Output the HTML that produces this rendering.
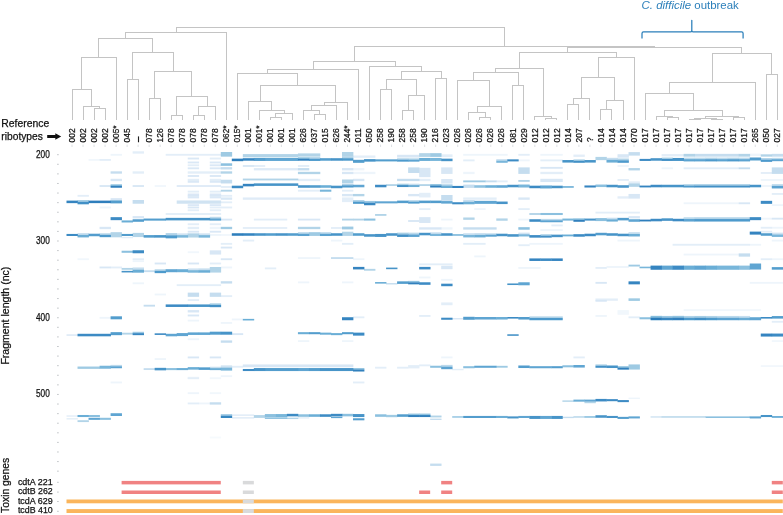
<!DOCTYPE html>
<html><head><meta charset="utf-8"><title>Ribotype heatmap</title>
<style>html,body{margin:0;padding:0;background:#fff}body{width:783px;height:515px;overflow:hidden;font-family:"Liberation Sans",Arial,sans-serif}svg{display:block}</style>
</head><body>
<svg width="783" height="515" viewBox="0 0 783 515" font-family="'Liberation Sans', Arial, sans-serif">
<filter id="bl" x="-2%" y="-2%" width="104%" height="104%"><feGaussianBlur stdDeviation="0.35 0.45"/></filter>
<g id="heat" filter="url(#bl)">
<rect x="209.76" y="436.54" width="11.37" height="1.86" fill="#f6fafd"/>
<rect x="88.54" y="158.99" width="11.37" height="1.86" fill="#f1f7fc"/>
<rect x="154.66" y="185.09" width="11.37" height="1.86" fill="#f1f7fc"/>
<rect x="220.78" y="234.04" width="11.37" height="1.86" fill="#f1f7fc"/>
<rect x="187.72" y="251.29" width="11.37" height="1.86" fill="#f1f7fc"/>
<rect x="77.52" y="258.29" width="11.37" height="1.86" fill="#f1f7fc"/>
<rect x="683.62" y="309.18" width="77.49" height="1.86" fill="#f1f7fc"/>
<rect x="617.5" y="310.12" width="11.37" height="4.66" fill="#f1f7fc"/>
<rect x="771.78" y="340.19" width="11.37" height="1.86" fill="#f1f7fc"/>
<rect x="209.76" y="377.33" width="11.37" height="1.86" fill="#f1f7fc"/>
<rect x="209.76" y="392.25" width="11.37" height="1.86" fill="#f1f7fc"/>
<rect x="518.32" y="159.45" width="11.37" height="1.86" fill="#eef5fb"/>
<rect x="749.74" y="153.62" width="11.37" height="2.33" fill="#eef5fb"/>
<rect x="110.58" y="153.86" width="11.37" height="1.86" fill="#eef5fb"/>
<rect x="463.22" y="153.86" width="44.43" height="1.86" fill="#eef5fb"/>
<rect x="540.36" y="153.86" width="22.39" height="1.86" fill="#eef5fb"/>
<rect x="617.5" y="165.05" width="11.37" height="1.86" fill="#eef5fb"/>
<rect x="353.02" y="168.08" width="11.37" height="2.33" fill="#eef5fb"/>
<rect x="353.02" y="171.81" width="22.39" height="2.33" fill="#eef5fb"/>
<rect x="463.22" y="171.81" width="11.37" height="2.33" fill="#eef5fb"/>
<rect x="661.58" y="167.38" width="11.37" height="1.86" fill="#eef5fb"/>
<rect x="760.76" y="179.03" width="22.39" height="1.86" fill="#eef5fb"/>
<rect x="760.76" y="185.09" width="11.37" height="1.86" fill="#eef5fb"/>
<rect x="683.62" y="202.34" width="55.45" height="1.86" fill="#eef5fb"/>
<rect x="771.78" y="204.21" width="11.37" height="1.86" fill="#eef5fb"/>
<rect x="99.56" y="206.54" width="11.37" height="1.86" fill="#eef5fb"/>
<rect x="474.24" y="208.17" width="11.37" height="1.86" fill="#eef5fb"/>
<rect x="441.18" y="218.66" width="11.37" height="1.86" fill="#eef5fb"/>
<rect x="518.32" y="218.66" width="11.37" height="1.86" fill="#eef5fb"/>
<rect x="760.76" y="217.73" width="11.37" height="1.86" fill="#eef5fb"/>
<rect x="209.76" y="226.82" width="11.37" height="2.33" fill="#eef5fb"/>
<rect x="441.18" y="227.28" width="11.37" height="2.33" fill="#eef5fb"/>
<rect x="540.36" y="229.15" width="22.39" height="1.86" fill="#eef5fb"/>
<rect x="771.78" y="226.82" width="11.37" height="1.86" fill="#eef5fb"/>
<rect x="209.76" y="234.04" width="11.37" height="1.86" fill="#eef5fb"/>
<rect x="330.98" y="239.64" width="11.37" height="1.86" fill="#eef5fb"/>
<rect x="617.5" y="239.64" width="22.39" height="1.86" fill="#eef5fb"/>
<rect x="771.78" y="239.64" width="11.37" height="1.86" fill="#eef5fb"/>
<rect x="529.34" y="242.9" width="33.41" height="1.86" fill="#eef5fb"/>
<rect x="749.74" y="243.83" width="11.37" height="1.86" fill="#eef5fb"/>
<rect x="683.62" y="253.62" width="55.45" height="1.86" fill="#eef5fb"/>
<rect x="297.92" y="257.12" width="22.39" height="1.86" fill="#eef5fb"/>
<rect x="353.02" y="258.29" width="11.37" height="1.86" fill="#eef5fb"/>
<rect x="771.78" y="258.29" width="11.37" height="1.86" fill="#eef5fb"/>
<rect x="474.24" y="255.49" width="11.37" height="1.86" fill="#eef5fb"/>
<rect x="132.62" y="260.23" width="11.37" height="1.86" fill="#eef5fb"/>
<rect x="220.78" y="266.53" width="11.37" height="1.86" fill="#eef5fb"/>
<rect x="518.32" y="266.99" width="22.39" height="1.86" fill="#eef5fb"/>
<rect x="606.48" y="266.06" width="22.39" height="1.86" fill="#eef5fb"/>
<rect x="419.14" y="276.55" width="11.37" height="1.86" fill="#eef5fb"/>
<rect x="441.18" y="278.88" width="11.37" height="1.86" fill="#eef5fb"/>
<rect x="132.62" y="282.38" width="11.37" height="1.86" fill="#eef5fb"/>
<rect x="297.92" y="281.45" width="11.37" height="1.86" fill="#eef5fb"/>
<rect x="342" y="281.45" width="11.37" height="1.86" fill="#eef5fb"/>
<rect x="749.74" y="281.91" width="33.41" height="1.86" fill="#eef5fb"/>
<rect x="154.66" y="293.57" width="11.37" height="1.86" fill="#eef5fb"/>
<rect x="187.72" y="319.67" width="11.37" height="1.86" fill="#eef5fb"/>
<rect x="595.46" y="315.01" width="11.37" height="1.86" fill="#eef5fb"/>
<rect x="99.56" y="316.88" width="11.37" height="1.86" fill="#eef5fb"/>
<rect x="220.78" y="322" width="11.37" height="1.86" fill="#eef5fb"/>
<rect x="231.8" y="318.51" width="11.37" height="1.86" fill="#eef5fb"/>
<rect x="187.72" y="338.32" width="11.37" height="1.86" fill="#eef5fb"/>
<rect x="297.92" y="340.19" width="11.37" height="1.86" fill="#eef5fb"/>
<rect x="342" y="340.19" width="11.37" height="1.86" fill="#eef5fb"/>
<rect x="441.18" y="356.5" width="11.37" height="1.86" fill="#eef5fb"/>
<rect x="154.66" y="358.14" width="11.37" height="1.86" fill="#eef5fb"/>
<rect x="760.76" y="365.36" width="22.39" height="1.4" fill="#eef5fb"/>
<rect x="187.72" y="376.78" width="11.37" height="1.86" fill="#eef5fb"/>
<rect x="220.78" y="375.23" width="11.37" height="1.86" fill="#eef5fb"/>
<rect x="110.58" y="381.53" width="11.37" height="1.86" fill="#eef5fb"/>
<rect x="187.72" y="392.25" width="11.37" height="1.86" fill="#eef5fb"/>
<rect x="198.74" y="402.51" width="11.37" height="1.86" fill="#eef5fb"/>
<rect x="628.52" y="397.61" width="11.37" height="1.4" fill="#eef5fb"/>
<rect x="353.02" y="155.49" width="22.39" height="2.33" fill="#e3eef8"/>
<rect x="441.18" y="154.32" width="11.37" height="2.8" fill="#e3eef8"/>
<rect x="463.22" y="159.45" width="11.37" height="1.86" fill="#e3eef8"/>
<rect x="540.36" y="159.45" width="22.39" height="1.86" fill="#e3eef8"/>
<rect x="573.42" y="154.56" width="11.37" height="2.33" fill="#e3eef8"/>
<rect x="661.58" y="154.09" width="22.39" height="2.33" fill="#e3eef8"/>
<rect x="165.68" y="153.86" width="55.45" height="1.86" fill="#e3eef8"/>
<rect x="518.32" y="153.86" width="11.37" height="1.86" fill="#e3eef8"/>
<rect x="132.62" y="151.29" width="11.37" height="2.33" fill="#e3eef8"/>
<rect x="99.56" y="158.99" width="11.37" height="1.86" fill="#e3eef8"/>
<rect x="253.84" y="165.05" width="11.37" height="1.86" fill="#e3eef8"/>
<rect x="297.92" y="165.05" width="11.37" height="1.86" fill="#e3eef8"/>
<rect x="132.62" y="171.34" width="11.37" height="2.33" fill="#e3eef8"/>
<rect x="187.72" y="171.34" width="33.41" height="2.33" fill="#e3eef8"/>
<rect x="540.36" y="171.81" width="22.39" height="2.33" fill="#e3eef8"/>
<rect x="683.62" y="167.38" width="55.45" height="1.86" fill="#e3eef8"/>
<rect x="760.76" y="172.04" width="11.37" height="1.86" fill="#e3eef8"/>
<rect x="187.72" y="178.8" width="11.37" height="2.33" fill="#e3eef8"/>
<rect x="209.76" y="178.8" width="11.37" height="2.33" fill="#e3eef8"/>
<rect x="297.92" y="178.8" width="22.39" height="2.33" fill="#e3eef8"/>
<rect x="419.14" y="178.8" width="11.37" height="2.33" fill="#e3eef8"/>
<rect x="496.28" y="180.43" width="11.37" height="1.86" fill="#e3eef8"/>
<rect x="617.5" y="179.03" width="11.37" height="1.86" fill="#e3eef8"/>
<rect x="628.52" y="181.36" width="11.37" height="1.86" fill="#e3eef8"/>
<rect x="220.78" y="186.03" width="11.37" height="1.86" fill="#e3eef8"/>
<rect x="297.92" y="189.76" width="22.39" height="1.86" fill="#e3eef8"/>
<rect x="342" y="189.76" width="11.37" height="1.86" fill="#e3eef8"/>
<rect x="77.52" y="194.88" width="11.37" height="1.86" fill="#e3eef8"/>
<rect x="220.78" y="194.88" width="11.37" height="1.86" fill="#e3eef8"/>
<rect x="463.22" y="197.45" width="33.41" height="2.33" fill="#e3eef8"/>
<rect x="342" y="197.45" width="11.37" height="4.66" fill="#e3eef8"/>
<rect x="419.14" y="192.79" width="11.37" height="4.66" fill="#e3eef8"/>
<rect x="617.5" y="196.28" width="11.37" height="2.33" fill="#e3eef8"/>
<rect x="771.78" y="193.02" width="11.37" height="1.86" fill="#e3eef8"/>
<rect x="220.78" y="201.41" width="11.37" height="1.86" fill="#e3eef8"/>
<rect x="209.76" y="206.54" width="11.37" height="1.86" fill="#e3eef8"/>
<rect x="220.78" y="206.54" width="11.37" height="1.86" fill="#e3eef8"/>
<rect x="419.14" y="208.17" width="11.37" height="1.86" fill="#e3eef8"/>
<rect x="518.32" y="208.17" width="11.37" height="1.86" fill="#e3eef8"/>
<rect x="165.68" y="213.07" width="55.45" height="1.86" fill="#e3eef8"/>
<rect x="595.46" y="211.67" width="44.43" height="1.86" fill="#e3eef8"/>
<rect x="253.84" y="218.66" width="33.41" height="1.86" fill="#e3eef8"/>
<rect x="551.38" y="224.49" width="11.37" height="1.86" fill="#e3eef8"/>
<rect x="187.72" y="226.82" width="11.37" height="2.33" fill="#e3eef8"/>
<rect x="242.82" y="227.05" width="44.43" height="1.86" fill="#e3eef8"/>
<rect x="330.98" y="227.05" width="11.37" height="1.86" fill="#e3eef8"/>
<rect x="760.76" y="226.82" width="11.37" height="1.86" fill="#e3eef8"/>
<rect x="121.6" y="236.84" width="11.37" height="1.4" fill="#e3eef8"/>
<rect x="760.76" y="230.78" width="11.37" height="1.86" fill="#e3eef8"/>
<rect x="242.82" y="239.64" width="11.37" height="1.86" fill="#e3eef8"/>
<rect x="342" y="242.9" width="11.37" height="1.86" fill="#e3eef8"/>
<rect x="463.22" y="242.9" width="22.39" height="1.86" fill="#e3eef8"/>
<rect x="220.78" y="242.9" width="11.37" height="1.86" fill="#e3eef8"/>
<rect x="518.32" y="244.3" width="11.37" height="1.86" fill="#e3eef8"/>
<rect x="672.6" y="243.83" width="77.49" height="1.86" fill="#e3eef8"/>
<rect x="132.62" y="258.29" width="11.37" height="1.86" fill="#e3eef8"/>
<rect x="760.76" y="258.29" width="11.37" height="1.86" fill="#e3eef8"/>
<rect x="419.14" y="263.41" width="33.41" height="1.86" fill="#e3eef8"/>
<rect x="209.76" y="157.59" width="11.37" height="1.86" fill="#e3eef8"/>
<rect x="187.72" y="164.35" width="11.37" height="1.86" fill="#e3eef8"/>
<rect x="187.72" y="190.69" width="11.37" height="1.86" fill="#e3eef8"/>
<rect x="209.76" y="190.69" width="11.37" height="1.86" fill="#e3eef8"/>
<rect x="187.72" y="209.34" width="11.37" height="1.86" fill="#e3eef8"/>
<rect x="209.76" y="209.34" width="11.37" height="1.86" fill="#e3eef8"/>
<rect x="187.72" y="223.32" width="11.37" height="1.86" fill="#e3eef8"/>
<rect x="209.76" y="223.32" width="11.37" height="1.86" fill="#e3eef8"/>
<rect x="209.76" y="262.56" width="11.37" height="1.86" fill="#e3eef8"/>
<rect x="110.58" y="266.53" width="11.37" height="1.86" fill="#e3eef8"/>
<rect x="264.86" y="267.46" width="11.37" height="1.86" fill="#e3eef8"/>
<rect x="595.46" y="266.99" width="11.37" height="1.86" fill="#e3eef8"/>
<rect x="176.7" y="284.24" width="44.43" height="1.86" fill="#e3eef8"/>
<rect x="220.78" y="295.2" width="11.37" height="1.86" fill="#e3eef8"/>
<rect x="187.72" y="299.16" width="11.37" height="1.86" fill="#e3eef8"/>
<rect x="595.46" y="298.46" width="22.39" height="2.33" fill="#e3eef8"/>
<rect x="441.18" y="302.42" width="11.37" height="2.8" fill="#e3eef8"/>
<rect x="419.14" y="315.01" width="11.37" height="1.86" fill="#e3eef8"/>
<rect x="353.02" y="316.41" width="11.37" height="1.86" fill="#e3eef8"/>
<rect x="628.52" y="316.41" width="11.37" height="1.86" fill="#e3eef8"/>
<rect x="771.78" y="320.84" width="11.37" height="1.86" fill="#e3eef8"/>
<rect x="573.42" y="356.5" width="11.37" height="1.86" fill="#e3eef8"/>
<rect x="231.8" y="365.83" width="11.37" height="1.86" fill="#e3eef8"/>
<rect x="375.06" y="366.76" width="11.37" height="1.86" fill="#e3eef8"/>
<rect x="397.1" y="366.76" width="11.37" height="1.86" fill="#e3eef8"/>
<rect x="408.12" y="365.13" width="11.37" height="3.26" fill="#e3eef8"/>
<rect x="419.14" y="364.43" width="11.37" height="1.86" fill="#e3eef8"/>
<rect x="452.2" y="368.86" width="11.37" height="1.4" fill="#e3eef8"/>
<rect x="187.72" y="377.33" width="11.37" height="1.86" fill="#e3eef8"/>
<rect x="353.02" y="381.53" width="11.37" height="1.86" fill="#e3eef8"/>
<rect x="187.72" y="402.51" width="11.37" height="1.86" fill="#e3eef8"/>
<rect x="66.5" y="415.33" width="11.37" height="1.4" fill="#e3eef8"/>
<rect x="66.5" y="418.12" width="11.37" height="1.4" fill="#e3eef8"/>
<rect x="297.92" y="417.19" width="11.37" height="1.4" fill="#e3eef8"/>
<rect x="253.84" y="168.08" width="44.43" height="2.33" fill="#dfebf7"/>
<rect x="176.7" y="185.09" width="44.43" height="1.86" fill="#dfebf7"/>
<rect x="242.82" y="197.45" width="88.51" height="2.33" fill="#dfebf7"/>
<rect x="187.72" y="157.59" width="11.37" height="1.86" fill="#dae8f6"/>
<rect x="187.72" y="161.55" width="11.37" height="1.86" fill="#dae8f6"/>
<rect x="209.76" y="161.55" width="11.37" height="1.86" fill="#dae8f6"/>
<rect x="209.76" y="164.35" width="11.37" height="1.86" fill="#dae8f6"/>
<rect x="187.72" y="167.38" width="11.37" height="1.86" fill="#dae8f6"/>
<rect x="209.76" y="167.38" width="11.37" height="1.86" fill="#dae8f6"/>
<rect x="187.72" y="175.07" width="11.37" height="1.86" fill="#dae8f6"/>
<rect x="209.76" y="175.07" width="11.37" height="1.86" fill="#dae8f6"/>
<rect x="187.72" y="180.9" width="11.37" height="1.86" fill="#dae8f6"/>
<rect x="209.76" y="180.9" width="11.37" height="1.86" fill="#dae8f6"/>
<rect x="187.72" y="193.48" width="11.37" height="1.86" fill="#dae8f6"/>
<rect x="209.76" y="193.48" width="11.37" height="1.86" fill="#dae8f6"/>
<rect x="187.72" y="196.52" width="11.37" height="1.86" fill="#dae8f6"/>
<rect x="209.76" y="196.52" width="11.37" height="1.86" fill="#dae8f6"/>
<rect x="187.72" y="204.21" width="11.37" height="1.86" fill="#dae8f6"/>
<rect x="209.76" y="204.21" width="11.37" height="1.86" fill="#dae8f6"/>
<rect x="187.72" y="230.78" width="11.37" height="1.86" fill="#dae8f6"/>
<rect x="209.76" y="230.78" width="11.37" height="1.86" fill="#dae8f6"/>
<rect x="397.1" y="154.79" width="22.39" height="2.8" fill="#d8e7f5"/>
<rect x="617.5" y="154.21" width="11.37" height="3.5" fill="#d8e7f5"/>
<rect x="242.82" y="165.05" width="11.37" height="1.86" fill="#d8e7f5"/>
<rect x="342" y="168.08" width="11.37" height="2.33" fill="#d8e7f5"/>
<rect x="342" y="171.81" width="11.37" height="2.33" fill="#d8e7f5"/>
<rect x="419.14" y="167.84" width="11.37" height="9.32" fill="#d8e7f5"/>
<rect x="441.18" y="167.38" width="11.37" height="6.53" fill="#d8e7f5"/>
<rect x="540.36" y="166.91" width="22.39" height="1.86" fill="#d8e7f5"/>
<rect x="110.58" y="178.8" width="11.37" height="2.33" fill="#d8e7f5"/>
<rect x="353.02" y="178.8" width="11.37" height="2.33" fill="#d8e7f5"/>
<rect x="441.18" y="179.03" width="11.37" height="4.2" fill="#d8e7f5"/>
<rect x="540.36" y="178.8" width="22.39" height="3.26" fill="#d8e7f5"/>
<rect x="99.56" y="185.09" width="11.37" height="1.86" fill="#d8e7f5"/>
<rect x="132.62" y="185.09" width="11.37" height="1.86" fill="#d8e7f5"/>
<rect x="187.72" y="194.88" width="11.37" height="1.86" fill="#d8e7f5"/>
<rect x="209.76" y="194.88" width="11.37" height="1.86" fill="#d8e7f5"/>
<rect x="342" y="193.95" width="11.37" height="2.33" fill="#d8e7f5"/>
<rect x="408.12" y="193.95" width="11.37" height="2.33" fill="#d8e7f5"/>
<rect x="518.32" y="197.45" width="11.37" height="2.33" fill="#d8e7f5"/>
<rect x="220.78" y="197.45" width="11.37" height="2.33" fill="#d8e7f5"/>
<rect x="628.52" y="193.95" width="11.37" height="4.66" fill="#d8e7f5"/>
<rect x="110.58" y="198.15" width="11.37" height="1.86" fill="#d8e7f5"/>
<rect x="738.72" y="202.34" width="11.37" height="1.86" fill="#d8e7f5"/>
<rect x="187.72" y="206.54" width="11.37" height="1.86" fill="#d8e7f5"/>
<rect x="132.62" y="216.1" width="11.37" height="2.33" fill="#d8e7f5"/>
<rect x="220.78" y="218.66" width="11.37" height="1.86" fill="#d8e7f5"/>
<rect x="297.92" y="218.66" width="22.39" height="1.86" fill="#d8e7f5"/>
<rect x="408.12" y="220.06" width="11.37" height="1.86" fill="#d8e7f5"/>
<rect x="419.14" y="217.14" width="11.37" height="5.83" fill="#d8e7f5"/>
<rect x="628.52" y="216.1" width="11.37" height="2.33" fill="#d8e7f5"/>
<rect x="771.78" y="217.73" width="11.37" height="1.86" fill="#d8e7f5"/>
<rect x="99.56" y="226.82" width="11.37" height="2.33" fill="#d8e7f5"/>
<rect x="419.14" y="227.28" width="22.39" height="2.33" fill="#d8e7f5"/>
<rect x="220.78" y="246.63" width="11.37" height="1.86" fill="#d8e7f5"/>
<rect x="209.76" y="250.36" width="11.37" height="4.2" fill="#d8e7f5"/>
<rect x="220.78" y="258.29" width="11.37" height="1.86" fill="#d8e7f5"/>
<rect x="154.66" y="262.56" width="11.37" height="1.86" fill="#d8e7f5"/>
<rect x="187.72" y="262.56" width="11.37" height="1.86" fill="#d8e7f5"/>
<rect x="99.56" y="266.53" width="11.37" height="1.86" fill="#d8e7f5"/>
<rect x="441.18" y="265.71" width="11.37" height="3.5" fill="#d8e7f5"/>
<rect x="595.46" y="281.91" width="11.37" height="1.86" fill="#d8e7f5"/>
<rect x="595.46" y="299.86" width="11.37" height="1.86" fill="#d8e7f5"/>
<rect x="187.72" y="310.12" width="11.37" height="2.33" fill="#d8e7f5"/>
<rect x="187.72" y="314.55" width="11.37" height="1.86" fill="#d8e7f5"/>
<rect x="452.2" y="318.04" width="11.37" height="1.4" fill="#d8e7f5"/>
<rect x="66.5" y="334.36" width="11.37" height="1.4" fill="#d8e7f5"/>
<rect x="231.8" y="333.19" width="11.37" height="1.86" fill="#d8e7f5"/>
<rect x="187.72" y="356.5" width="11.37" height="1.86" fill="#d8e7f5"/>
<rect x="209.76" y="356.5" width="11.37" height="1.86" fill="#d8e7f5"/>
<rect x="242.82" y="364.43" width="110.55" height="2.8" fill="#d8e7f5"/>
<rect x="231.8" y="414.51" width="22.39" height="1.17" fill="#d8e7f5"/>
<rect x="231.8" y="417.31" width="22.39" height="1.17" fill="#d8e7f5"/>
<rect x="176.7" y="200.48" width="44.43" height="3.26" fill="#d0e3f2"/>
<rect x="496.28" y="158.99" width="11.37" height="1.73" fill="#d0e3f2"/>
<rect x="176.7" y="233.34" width="11.37" height="1.94" fill="#d0e3f2"/>
<rect x="198.74" y="233.34" width="11.37" height="1.94" fill="#d0e3f2"/>
<rect x="430.16" y="232.18" width="11.37" height="1.73" fill="#d0e3f2"/>
<rect x="463.22" y="233.11" width="11.37" height="1.94" fill="#d0e3f2"/>
<rect x="518.32" y="232.65" width="11.37" height="1.73" fill="#d0e3f2"/>
<rect x="771.78" y="232.65" width="11.37" height="1.94" fill="#d0e3f2"/>
<rect x="187.72" y="268.39" width="11.37" height="1.94" fill="#d0e3f2"/>
<rect x="220.78" y="365.36" width="11.37" height="2.36" fill="#d0e3f2"/>
<rect x="606.48" y="157.82" width="11.37" height="2.15" fill="#c6deef"/>
<rect x="408.12" y="183.69" width="11.37" height="1.52" fill="#c6deef"/>
<rect x="441.18" y="183.69" width="11.37" height="1.94" fill="#c6deef"/>
<rect x="463.22" y="200.01" width="11.37" height="1.94" fill="#c6deef"/>
<rect x="606.48" y="217.73" width="11.37" height="1.73" fill="#c6deef"/>
<rect x="77.52" y="233.11" width="11.37" height="1.94" fill="#c6deef"/>
<rect x="474.24" y="233.11" width="11.37" height="1.94" fill="#c6deef"/>
<rect x="628.52" y="232.18" width="11.37" height="1.94" fill="#c6deef"/>
<rect x="132.62" y="267.46" width="11.37" height="2.36" fill="#c6deef"/>
<rect x="198.74" y="268.39" width="11.37" height="1.94" fill="#c6deef"/>
<rect x="738.72" y="315.94" width="11.37" height="1.94" fill="#c6deef"/>
<rect x="209.76" y="366.76" width="11.37" height="1.52" fill="#c6deef"/>
<rect x="628.52" y="152.11" width="11.37" height="3.5" fill="#c5ddef"/>
<rect x="694.64" y="153.86" width="44.43" height="2.8" fill="#c5ddef"/>
<rect x="771.78" y="153.86" width="11.37" height="2.8" fill="#c5ddef"/>
<rect x="297.92" y="168.08" width="11.37" height="2.33" fill="#c5ddef"/>
<rect x="408.12" y="167.38" width="11.37" height="5.59" fill="#c5ddef"/>
<rect x="220.78" y="167.14" width="11.37" height="2.33" fill="#c5ddef"/>
<rect x="110.58" y="171.34" width="11.37" height="2.33" fill="#c5ddef"/>
<rect x="518.32" y="167.38" width="11.37" height="6.53" fill="#c5ddef"/>
<rect x="738.72" y="167.38" width="11.37" height="1.86" fill="#c5ddef"/>
<rect x="771.78" y="167.38" width="11.37" height="6.53" fill="#c5ddef"/>
<rect x="220.78" y="179.73" width="11.37" height="3.73" fill="#c5ddef"/>
<rect x="397.1" y="178.8" width="22.39" height="2.33" fill="#c5ddef"/>
<rect x="485.26" y="180.43" width="11.37" height="1.86" fill="#c5ddef"/>
<rect x="463.22" y="184.63" width="11.37" height="3.26" fill="#c5ddef"/>
<rect x="441.18" y="195" width="11.37" height="5.83" fill="#c5ddef"/>
<rect x="132.62" y="200.01" width="11.37" height="3.73" fill="#c5ddef"/>
<rect x="463.22" y="227.28" width="33.41" height="2.33" fill="#c5ddef"/>
<rect x="738.72" y="253.39" width="11.37" height="3.26" fill="#c5ddef"/>
<rect x="330.98" y="257.12" width="22.39" height="1.86" fill="#c5ddef"/>
<rect x="143.64" y="270.26" width="11.37" height="1.86" fill="#c5ddef"/>
<rect x="220.78" y="281.21" width="11.37" height="2.33" fill="#c5ddef"/>
<rect x="386.08" y="283.08" width="11.37" height="1.4" fill="#c5ddef"/>
<rect x="187.72" y="292.63" width="11.37" height="4.2" fill="#c5ddef"/>
<rect x="209.76" y="292.63" width="11.37" height="4.2" fill="#c5ddef"/>
<rect x="143.64" y="304.76" width="11.37" height="1.86" fill="#c5ddef"/>
<rect x="220.78" y="340.42" width="11.37" height="2.33" fill="#c5ddef"/>
<rect x="143.64" y="368.16" width="11.37" height="1.86" fill="#c5ddef"/>
<rect x="209.76" y="402.27" width="11.37" height="2.33" fill="#c5ddef"/>
<rect x="430.16" y="418.59" width="11.37" height="1.4" fill="#c5ddef"/>
<rect x="562.4" y="416.72" width="11.37" height="1.4" fill="#c5ddef"/>
<rect x="650.56" y="416.38" width="11.37" height="1.17" fill="#c5ddef"/>
<rect x="430.16" y="463.58" width="11.37" height="2.33" fill="#c5ddef"/>
<rect x="408.12" y="158.29" width="11.37" height="1.52" fill="#bbd9ec"/>
<rect x="683.62" y="157.59" width="11.37" height="1.73" fill="#bbd9ec"/>
<rect x="694.64" y="157.59" width="11.37" height="1.73" fill="#bbd9ec"/>
<rect x="716.68" y="157.59" width="11.37" height="1.73" fill="#bbd9ec"/>
<rect x="738.72" y="157.59" width="11.37" height="1.73" fill="#bbd9ec"/>
<rect x="771.78" y="157.82" width="11.37" height="1.52" fill="#bbd9ec"/>
<rect x="771.78" y="184.16" width="11.37" height="1.94" fill="#bbd9ec"/>
<rect x="209.76" y="216.79" width="11.37" height="1.73" fill="#bbd9ec"/>
<rect x="540.36" y="218.89" width="22.39" height="1.52" fill="#bbd9ec"/>
<rect x="683.62" y="217.26" width="11.37" height="1.94" fill="#bbd9ec"/>
<rect x="297.92" y="232.18" width="11.37" height="1.73" fill="#bbd9ec"/>
<rect x="319.96" y="232.18" width="11.37" height="1.73" fill="#bbd9ec"/>
<rect x="408.12" y="232.65" width="11.37" height="1.94" fill="#bbd9ec"/>
<rect x="485.26" y="233.34" width="11.37" height="1.52" fill="#bbd9ec"/>
<rect x="716.68" y="315.94" width="22.39" height="1.94" fill="#bbd9ec"/>
<rect x="110.58" y="364.9" width="11.37" height="1.52" fill="#bbd9ec"/>
<rect x="441.18" y="364.9" width="11.37" height="1.94" fill="#bbd9ec"/>
<rect x="242.82" y="154.09" width="55.45" height="3.26" fill="#b2d4e8"/>
<rect x="297.92" y="153.39" width="22.39" height="3.26" fill="#b2d4e8"/>
<rect x="342" y="151.99" width="11.37" height="4.66" fill="#b2d4e8"/>
<rect x="419.14" y="153.16" width="11.37" height="3.73" fill="#b2d4e8"/>
<rect x="595.46" y="156.89" width="11.37" height="3.26" fill="#b2d4e8"/>
<rect x="683.62" y="153.86" width="11.37" height="2.8" fill="#b2d4e8"/>
<rect x="738.72" y="153.86" width="11.37" height="2.8" fill="#b2d4e8"/>
<rect x="760.76" y="154.32" width="11.37" height="2.33" fill="#b2d4e8"/>
<rect x="628.52" y="168.08" width="11.37" height="2.33" fill="#b2d4e8"/>
<rect x="220.78" y="171.34" width="11.37" height="2.33" fill="#b2d4e8"/>
<rect x="297.92" y="171.81" width="22.39" height="2.33" fill="#b2d4e8"/>
<rect x="242.82" y="178.57" width="55.45" height="1.86" fill="#b2d4e8"/>
<rect x="342" y="179.5" width="11.37" height="3.73" fill="#b2d4e8"/>
<rect x="518.32" y="179.97" width="11.37" height="1.86" fill="#b2d4e8"/>
<rect x="386.08" y="184.16" width="11.37" height="1.86" fill="#b2d4e8"/>
<rect x="419.14" y="184.16" width="11.37" height="1.86" fill="#b2d4e8"/>
<rect x="628.52" y="183.34" width="11.37" height="3.5" fill="#b2d4e8"/>
<rect x="220.78" y="189.76" width="11.37" height="1.86" fill="#b2d4e8"/>
<rect x="353.02" y="193.95" width="11.37" height="2.33" fill="#b2d4e8"/>
<rect x="529.34" y="213.07" width="11.37" height="1.86" fill="#b2d4e8"/>
<rect x="375.06" y="214" width="11.37" height="1.86" fill="#b2d4e8"/>
<rect x="342" y="218.66" width="11.37" height="1.86" fill="#b2d4e8"/>
<rect x="353.02" y="218.66" width="11.37" height="1.86" fill="#b2d4e8"/>
<rect x="463.22" y="217.49" width="11.37" height="2.33" fill="#b2d4e8"/>
<rect x="496.28" y="218.43" width="11.37" height="2.33" fill="#b2d4e8"/>
<rect x="297.92" y="226.82" width="22.39" height="2.33" fill="#b2d4e8"/>
<rect x="110.58" y="232.18" width="11.37" height="5.13" fill="#b2d4e8"/>
<rect x="132.62" y="232.88" width="11.37" height="4.2" fill="#b2d4e8"/>
<rect x="187.72" y="233.34" width="11.37" height="4.2" fill="#b2d4e8"/>
<rect x="342" y="231.71" width="11.37" height="4.2" fill="#b2d4e8"/>
<rect x="121.6" y="267.93" width="11.37" height="1.86" fill="#b2d4e8"/>
<rect x="209.76" y="266.99" width="11.37" height="5.59" fill="#b2d4e8"/>
<rect x="364.04" y="268.86" width="11.37" height="1.86" fill="#b2d4e8"/>
<rect x="121.6" y="332.73" width="11.37" height="1.86" fill="#b2d4e8"/>
<rect x="562.4" y="400.41" width="11.37" height="1.4" fill="#b2d4e8"/>
<rect x="584.44" y="401.81" width="11.37" height="1.4" fill="#b2d4e8"/>
<rect x="77.52" y="420.22" width="11.37" height="1.86" fill="#b2d4e8"/>
<rect x="253.84" y="415.09" width="11.37" height="2.8" fill="#b2d4e8"/>
<rect x="286.9" y="417.66" width="11.37" height="1.4" fill="#b2d4e8"/>
<rect x="430.16" y="415.56" width="11.37" height="1.86" fill="#b2d4e8"/>
<rect x="573.42" y="416.26" width="11.37" height="1.4" fill="#b2d4e8"/>
<rect x="661.58" y="416.26" width="44.43" height="1.4" fill="#b2d4e8"/>
<rect x="308.94" y="157.12" width="11.37" height="1.73" fill="#b1d3e8"/>
<rect x="342" y="156.42" width="11.37" height="1.94" fill="#b1d3e8"/>
<rect x="397.1" y="158.29" width="11.37" height="1.52" fill="#b1d3e8"/>
<rect x="617.5" y="158.52" width="11.37" height="1.94" fill="#b1d3e8"/>
<rect x="705.66" y="157.59" width="11.37" height="1.73" fill="#b1d3e8"/>
<rect x="727.7" y="157.59" width="11.37" height="1.73" fill="#b1d3e8"/>
<rect x="760.76" y="158.05" width="11.37" height="1.73" fill="#b1d3e8"/>
<rect x="342" y="183.69" width="11.37" height="1.73" fill="#b1d3e8"/>
<rect x="683.62" y="184.16" width="11.37" height="1.52" fill="#b1d3e8"/>
<rect x="353.02" y="200.01" width="11.37" height="1.73" fill="#b1d3e8"/>
<rect x="408.12" y="200.24" width="11.37" height="1.52" fill="#b1d3e8"/>
<rect x="694.64" y="217.26" width="55.45" height="1.94" fill="#b1d3e8"/>
<rect x="99.56" y="233.34" width="11.37" height="1.73" fill="#b1d3e8"/>
<rect x="165.68" y="233.11" width="11.37" height="2.36" fill="#b1d3e8"/>
<rect x="154.66" y="269.32" width="11.37" height="1.73" fill="#b1d3e8"/>
<rect x="529.34" y="316.41" width="33.41" height="1.73" fill="#b1d3e8"/>
<rect x="683.62" y="315.94" width="11.37" height="1.94" fill="#b1d3e8"/>
<rect x="705.66" y="315.94" width="11.37" height="1.94" fill="#b1d3e8"/>
<rect x="573.42" y="159.45" width="11.37" height="1.52" fill="#a6cee5"/>
<rect x="661.58" y="157.59" width="11.37" height="1.52" fill="#a6cee5"/>
<rect x="397.1" y="183.69" width="11.37" height="1.52" fill="#a6cee5"/>
<rect x="694.64" y="184.16" width="55.45" height="1.52" fill="#a6cee5"/>
<rect x="77.52" y="200.01" width="11.37" height="1.94" fill="#a6cee5"/>
<rect x="397.1" y="232.65" width="11.37" height="1.94" fill="#a6cee5"/>
<rect x="540.36" y="234.28" width="11.37" height="1.52" fill="#a6cee5"/>
<rect x="209.76" y="303.36" width="11.37" height="1.73" fill="#a6cee5"/>
<rect x="694.64" y="315.94" width="11.37" height="1.94" fill="#a6cee5"/>
<rect x="595.46" y="364.43" width="11.37" height="1.52" fill="#a6cee5"/>
<rect x="430.16" y="153.16" width="11.37" height="3.73" fill="#9ecae3"/>
<rect x="220.78" y="151.99" width="11.37" height="4.66" fill="#9ecae3"/>
<rect x="463.22" y="180.43" width="22.39" height="1.86" fill="#9ecae3"/>
<rect x="220.78" y="226.82" width="11.37" height="2.33" fill="#9ecae3"/>
<rect x="342" y="226.59" width="11.37" height="2.8" fill="#9ecae3"/>
<rect x="308.94" y="232.18" width="11.37" height="3.73" fill="#9ecae3"/>
<rect x="628.52" y="264.66" width="11.37" height="1.86" fill="#9ecae3"/>
<rect x="628.52" y="298.34" width="11.37" height="2.56" fill="#9ecae3"/>
<rect x="77.52" y="366.53" width="22.39" height="2.33" fill="#9ecae3"/>
<rect x="496.28" y="365.83" width="11.37" height="1.86" fill="#9ecae3"/>
<rect x="628.52" y="364.43" width="11.37" height="5.13" fill="#9ecae3"/>
<rect x="386.08" y="414.86" width="11.37" height="2.33" fill="#9ecae3"/>
<rect x="364.04" y="200.94" width="11.37" height="1.94" fill="#9cc8e3"/>
<rect x="661.58" y="315.94" width="11.37" height="1.94" fill="#9cc8e3"/>
<rect x="132.62" y="331.79" width="11.37" height="1.52" fill="#9cc8e3"/>
<rect x="220.78" y="414.16" width="11.37" height="1.73" fill="#9cc8e3"/>
<rect x="297.92" y="157.25" width="11.37" height="1.72" fill="#91c3e0"/>
<rect x="110.58" y="184.29" width="11.37" height="1.72" fill="#91c3e0"/>
<rect x="430.16" y="184.06" width="11.37" height="1.72" fill="#91c3e0"/>
<rect x="573.42" y="218.33" width="11.37" height="1.72" fill="#91c3e0"/>
<rect x="408.12" y="280.88" width="11.37" height="1.72" fill="#91c3e0"/>
<rect x="672.6" y="315.84" width="11.37" height="2.14" fill="#91c3e0"/>
<rect x="353.02" y="368.06" width="11.37" height="1.72" fill="#91c3e0"/>
<rect x="617.5" y="366.19" width="11.37" height="1.72" fill="#91c3e0"/>
<rect x="408.12" y="413.59" width="11.37" height="1.72" fill="#91c3e0"/>
<rect x="419.14" y="413.59" width="11.37" height="1.72" fill="#91c3e0"/>
<rect x="220.78" y="163.31" width="11.37" height="2.53" fill="#8bc0df"/>
<rect x="474.24" y="185.23" width="11.37" height="2.53" fill="#8bc0df"/>
<rect x="595.46" y="184.53" width="11.37" height="2.53" fill="#8bc0df"/>
<rect x="540.36" y="212.97" width="22.39" height="2.06" fill="#8bc0df"/>
<rect x="364.04" y="218.56" width="11.37" height="2.06" fill="#8bc0df"/>
<rect x="595.46" y="218.09" width="11.37" height="3" fill="#8bc0df"/>
<rect x="518.32" y="227.18" width="11.37" height="2.53" fill="#8bc0df"/>
<rect x="452.2" y="234.06" width="11.37" height="1.83" fill="#8bc0df"/>
<rect x="121.6" y="250.73" width="11.37" height="2.06" fill="#8bc0df"/>
<rect x="738.72" y="265.61" width="11.37" height="4.16" fill="#8bc0df"/>
<rect x="639.54" y="317.24" width="11.37" height="2.06" fill="#8bc0df"/>
<rect x="165.68" y="368.06" width="11.37" height="2.06" fill="#8bc0df"/>
<rect x="430.16" y="365.73" width="11.37" height="2.06" fill="#8bc0df"/>
<rect x="463.22" y="366.19" width="11.37" height="2.06" fill="#8bc0df"/>
<rect x="562.4" y="365.26" width="11.37" height="2.06" fill="#8bc0df"/>
<rect x="88.54" y="414.99" width="11.37" height="2.06" fill="#8bc0df"/>
<rect x="99.56" y="417.79" width="11.37" height="2.06" fill="#8bc0df"/>
<rect x="264.86" y="414.06" width="11.37" height="3" fill="#8bc0df"/>
<rect x="264.86" y="417.32" width="22.39" height="1.6" fill="#8bc0df"/>
<rect x="297.92" y="414.29" width="11.37" height="2.53" fill="#8bc0df"/>
<rect x="342" y="413.83" width="11.37" height="2.53" fill="#8bc0df"/>
<rect x="375.06" y="414.29" width="11.37" height="2.53" fill="#8bc0df"/>
<rect x="452.2" y="416.28" width="11.37" height="1.37" fill="#8bc0df"/>
<rect x="584.44" y="416.16" width="11.37" height="1.6" fill="#8bc0df"/>
<rect x="705.66" y="416.39" width="44.43" height="1.6" fill="#8bc0df"/>
<rect x="650.56" y="315.84" width="11.37" height="2.14" fill="#86bedd"/>
<rect x="496.28" y="160.56" width="11.37" height="2.25" fill="#79b6da"/>
<rect x="176.7" y="235.13" width="11.37" height="2.51" fill="#79b6da"/>
<rect x="198.74" y="235.13" width="11.37" height="2.51" fill="#79b6da"/>
<rect x="430.16" y="233.76" width="11.37" height="2.25" fill="#79b6da"/>
<rect x="463.22" y="234.9" width="11.37" height="2.51" fill="#79b6da"/>
<rect x="518.32" y="234.22" width="11.37" height="2.25" fill="#79b6da"/>
<rect x="771.78" y="234.43" width="11.37" height="2.51" fill="#79b6da"/>
<rect x="187.72" y="270.18" width="11.37" height="2.51" fill="#79b6da"/>
<rect x="220.78" y="367.57" width="11.37" height="3.02" fill="#79b6da"/>
<rect x="430.16" y="157.95" width="11.37" height="3" fill="#78b6da"/>
<rect x="518.32" y="184.53" width="11.37" height="3" fill="#78b6da"/>
<rect x="319.96" y="189.66" width="11.37" height="2.06" fill="#78b6da"/>
<rect x="562.4" y="218.56" width="11.37" height="2.06" fill="#78b6da"/>
<rect x="639.54" y="266.66" width="11.37" height="1.6" fill="#78b6da"/>
<rect x="716.68" y="265.61" width="22.39" height="4.16" fill="#78b6da"/>
<rect x="99.56" y="365.73" width="11.37" height="3" fill="#78b6da"/>
<rect x="275.88" y="414.06" width="11.37" height="3" fill="#78b6da"/>
<rect x="419.14" y="157.95" width="11.37" height="3" fill="#6baed6"/>
<rect x="319.96" y="185.23" width="11.37" height="2.53" fill="#6baed6"/>
<rect x="485.26" y="185.23" width="11.37" height="2.53" fill="#6baed6"/>
<rect x="562.4" y="186.16" width="11.37" height="1.6" fill="#6baed6"/>
<rect x="121.6" y="220.42" width="11.37" height="2.06" fill="#6baed6"/>
<rect x="562.4" y="234.53" width="11.37" height="1.83" fill="#6baed6"/>
<rect x="176.7" y="269.22" width="11.37" height="3" fill="#6baed6"/>
<rect x="683.62" y="265.61" width="11.37" height="4.16" fill="#6baed6"/>
<rect x="705.66" y="265.61" width="11.37" height="4.16" fill="#6baed6"/>
<rect x="375.06" y="282.04" width="11.37" height="1.6" fill="#6baed6"/>
<rect x="242.82" y="318.87" width="11.37" height="1.6" fill="#6baed6"/>
<rect x="496.28" y="317.01" width="11.37" height="2.53" fill="#6baed6"/>
<rect x="297.92" y="332.16" width="11.37" height="2.06" fill="#6baed6"/>
<rect x="319.96" y="332.63" width="11.37" height="2.06" fill="#6baed6"/>
<rect x="330.98" y="333.09" width="11.37" height="2.06" fill="#6baed6"/>
<rect x="176.7" y="368.06" width="11.37" height="2.06" fill="#6baed6"/>
<rect x="187.72" y="367.13" width="11.37" height="2.53" fill="#6baed6"/>
<rect x="573.42" y="399.61" width="11.37" height="2.06" fill="#6baed6"/>
<rect x="77.52" y="414.99" width="11.37" height="2.06" fill="#6baed6"/>
<rect x="308.94" y="414.29" width="11.37" height="2.53" fill="#6baed6"/>
<rect x="496.28" y="415.93" width="11.37" height="2.06" fill="#6baed6"/>
<rect x="771.78" y="416.04" width="11.37" height="1.83" fill="#6baed6"/>
<rect x="606.48" y="159.82" width="11.37" height="2.76" fill="#6aadd5"/>
<rect x="408.12" y="185.06" width="11.37" height="1.99" fill="#6aadd5"/>
<rect x="441.18" y="185.48" width="11.37" height="2.51" fill="#6aadd5"/>
<rect x="463.22" y="201.8" width="11.37" height="2.51" fill="#6aadd5"/>
<rect x="606.48" y="219.31" width="11.37" height="2.25" fill="#6aadd5"/>
<rect x="77.52" y="234.9" width="11.37" height="2.51" fill="#6aadd5"/>
<rect x="474.24" y="234.9" width="11.37" height="2.51" fill="#6aadd5"/>
<rect x="628.52" y="233.97" width="11.37" height="2.51" fill="#6aadd5"/>
<rect x="132.62" y="269.67" width="11.37" height="3.02" fill="#6aadd5"/>
<rect x="198.74" y="270.18" width="11.37" height="2.51" fill="#6aadd5"/>
<rect x="738.72" y="317.73" width="11.37" height="2.51" fill="#6aadd5"/>
<rect x="209.76" y="368.13" width="11.37" height="1.99" fill="#6aadd5"/>
<rect x="264.86" y="157.95" width="33.41" height="3" fill="#5ea5d2"/>
<rect x="353.02" y="184.76" width="11.37" height="2.53" fill="#5ea5d2"/>
<rect x="496.28" y="185.23" width="11.37" height="2.53" fill="#5ea5d2"/>
<rect x="540.36" y="185.46" width="11.37" height="3" fill="#5ea5d2"/>
<rect x="375.06" y="201.31" width="22.39" height="2.06" fill="#5ea5d2"/>
<rect x="441.18" y="201.08" width="11.37" height="2.53" fill="#5ea5d2"/>
<rect x="474.24" y="200.84" width="22.39" height="3" fill="#5ea5d2"/>
<rect x="628.52" y="219.26" width="11.37" height="2.53" fill="#5ea5d2"/>
<rect x="165.68" y="269.22" width="11.37" height="3" fill="#5ea5d2"/>
<rect x="661.58" y="265.61" width="11.37" height="4.16" fill="#5ea5d2"/>
<rect x="694.64" y="265.61" width="11.37" height="4.16" fill="#5ea5d2"/>
<rect x="749.74" y="263.51" width="11.37" height="6.03" fill="#5ea5d2"/>
<rect x="518.32" y="282.28" width="11.37" height="3" fill="#5ea5d2"/>
<rect x="474.24" y="317.01" width="22.39" height="2.53" fill="#5ea5d2"/>
<rect x="749.74" y="317.24" width="11.37" height="3" fill="#5ea5d2"/>
<rect x="165.68" y="333.79" width="11.37" height="2.53" fill="#5ea5d2"/>
<rect x="176.7" y="333.09" width="11.37" height="3" fill="#5ea5d2"/>
<rect x="187.72" y="332.39" width="11.37" height="2.53" fill="#5ea5d2"/>
<rect x="198.74" y="332.39" width="11.37" height="2.53" fill="#5ea5d2"/>
<rect x="297.92" y="368.06" width="11.37" height="3" fill="#5ea5d2"/>
<rect x="474.24" y="365.73" width="22.39" height="2.06" fill="#5ea5d2"/>
<rect x="529.34" y="366.19" width="22.39" height="2.06" fill="#5ea5d2"/>
<rect x="573.42" y="365.03" width="11.37" height="2.53" fill="#5ea5d2"/>
<rect x="584.44" y="399.61" width="11.37" height="2.06" fill="#5ea5d2"/>
<rect x="110.58" y="413.24" width="11.37" height="2.76" fill="#5ea5d2"/>
<rect x="88.54" y="417.79" width="11.37" height="2.06" fill="#5ea5d2"/>
<rect x="330.98" y="416.74" width="11.37" height="1.37" fill="#5ea5d2"/>
<rect x="518.32" y="415.93" width="11.37" height="2.06" fill="#5ea5d2"/>
<rect x="540.36" y="415.93" width="11.37" height="3" fill="#5ea5d2"/>
<rect x="628.52" y="416.39" width="11.37" height="2.06" fill="#5ea5d2"/>
<rect x="749.74" y="416.39" width="11.37" height="2.06" fill="#5ea5d2"/>
<rect x="408.12" y="159.66" width="11.37" height="1.99" fill="#5ba3d1"/>
<rect x="683.62" y="159.17" width="11.37" height="2.25" fill="#5ba3d1"/>
<rect x="694.64" y="159.17" width="11.37" height="2.25" fill="#5ba3d1"/>
<rect x="716.68" y="159.17" width="11.37" height="2.25" fill="#5ba3d1"/>
<rect x="738.72" y="159.17" width="11.37" height="2.25" fill="#5ba3d1"/>
<rect x="771.78" y="159.19" width="11.37" height="1.99" fill="#5ba3d1"/>
<rect x="771.78" y="185.95" width="11.37" height="2.51" fill="#5ba3d1"/>
<rect x="209.76" y="218.37" width="11.37" height="2.25" fill="#5ba3d1"/>
<rect x="540.36" y="220.26" width="22.39" height="1.99" fill="#5ba3d1"/>
<rect x="683.62" y="219.05" width="11.37" height="2.51" fill="#5ba3d1"/>
<rect x="297.92" y="233.76" width="11.37" height="2.25" fill="#5ba3d1"/>
<rect x="319.96" y="233.76" width="11.37" height="2.25" fill="#5ba3d1"/>
<rect x="408.12" y="234.43" width="11.37" height="2.51" fill="#5ba3d1"/>
<rect x="485.26" y="234.71" width="11.37" height="1.99" fill="#5ba3d1"/>
<rect x="716.68" y="317.73" width="22.39" height="2.51" fill="#5ba3d1"/>
<rect x="110.58" y="366.26" width="11.37" height="1.99" fill="#5ba3d1"/>
<rect x="441.18" y="366.68" width="11.37" height="2.51" fill="#5ba3d1"/>
<rect x="319.96" y="158.19" width="11.37" height="2.53" fill="#529dcd"/>
<rect x="253.84" y="157.95" width="11.37" height="3" fill="#529dcd"/>
<rect x="353.02" y="159.82" width="11.37" height="3" fill="#529dcd"/>
<rect x="375.06" y="159.35" width="22.39" height="2.06" fill="#529dcd"/>
<rect x="749.74" y="157.49" width="11.37" height="3" fill="#529dcd"/>
<rect x="308.94" y="185.23" width="11.37" height="2.53" fill="#529dcd"/>
<rect x="110.58" y="200.38" width="11.37" height="3" fill="#529dcd"/>
<rect x="397.1" y="200.61" width="11.37" height="2.53" fill="#529dcd"/>
<rect x="419.14" y="200.61" width="11.37" height="2.53" fill="#529dcd"/>
<rect x="430.16" y="200.61" width="11.37" height="2.53" fill="#529dcd"/>
<rect x="132.62" y="219.26" width="11.37" height="2.53" fill="#529dcd"/>
<rect x="143.64" y="218.56" width="22.39" height="2.06" fill="#529dcd"/>
<rect x="617.5" y="217.86" width="11.37" height="2.53" fill="#529dcd"/>
<rect x="88.54" y="233.71" width="11.37" height="2.53" fill="#529dcd"/>
<rect x="121.6" y="233.94" width="11.37" height="2.06" fill="#529dcd"/>
<rect x="143.64" y="235.11" width="11.37" height="2.53" fill="#529dcd"/>
<rect x="264.86" y="233.24" width="11.37" height="2.53" fill="#529dcd"/>
<rect x="286.9" y="233.24" width="11.37" height="2.53" fill="#529dcd"/>
<rect x="353.02" y="233.24" width="11.37" height="2.53" fill="#529dcd"/>
<rect x="595.46" y="232.78" width="11.37" height="2.53" fill="#529dcd"/>
<rect x="760.76" y="233.24" width="11.37" height="2.53" fill="#529dcd"/>
<rect x="771.78" y="267.13" width="11.37" height="2.53" fill="#529dcd"/>
<rect x="397.1" y="281.35" width="11.37" height="2.53" fill="#529dcd"/>
<rect x="110.58" y="316.31" width="11.37" height="3" fill="#529dcd"/>
<rect x="463.22" y="316.78" width="11.37" height="3" fill="#529dcd"/>
<rect x="518.32" y="317.01" width="11.37" height="2.53" fill="#529dcd"/>
<rect x="771.78" y="316.08" width="11.37" height="2.53" fill="#529dcd"/>
<rect x="110.58" y="332.16" width="11.37" height="3" fill="#529dcd"/>
<rect x="209.76" y="331.69" width="11.37" height="3" fill="#529dcd"/>
<rect x="308.94" y="332.16" width="11.37" height="2.06" fill="#529dcd"/>
<rect x="342" y="332.16" width="11.37" height="2.06" fill="#529dcd"/>
<rect x="198.74" y="367.36" width="11.37" height="2.53" fill="#529dcd"/>
<rect x="264.86" y="368.06" width="33.41" height="3" fill="#529dcd"/>
<rect x="308.94" y="368.06" width="11.37" height="3" fill="#529dcd"/>
<rect x="518.32" y="365.49" width="11.37" height="2.53" fill="#529dcd"/>
<rect x="551.38" y="366.19" width="11.37" height="2.06" fill="#529dcd"/>
<rect x="353.02" y="418.26" width="11.37" height="2.06" fill="#529dcd"/>
<rect x="397.1" y="414.29" width="11.37" height="2.53" fill="#529dcd"/>
<rect x="463.22" y="415.93" width="33.41" height="2.06" fill="#529dcd"/>
<rect x="617.5" y="416.86" width="11.37" height="2.06" fill="#529dcd"/>
<rect x="308.94" y="158.7" width="11.37" height="2.25" fill="#4e9acc"/>
<rect x="342" y="158.21" width="11.37" height="2.51" fill="#4e9acc"/>
<rect x="397.1" y="159.66" width="11.37" height="1.99" fill="#4e9acc"/>
<rect x="617.5" y="160.31" width="11.37" height="2.51" fill="#4e9acc"/>
<rect x="705.66" y="159.17" width="11.37" height="2.25" fill="#4e9acc"/>
<rect x="727.7" y="159.17" width="11.37" height="2.25" fill="#4e9acc"/>
<rect x="760.76" y="159.63" width="11.37" height="2.25" fill="#4e9acc"/>
<rect x="342" y="185.27" width="11.37" height="2.25" fill="#4e9acc"/>
<rect x="683.62" y="185.53" width="11.37" height="1.99" fill="#4e9acc"/>
<rect x="353.02" y="201.59" width="11.37" height="2.25" fill="#4e9acc"/>
<rect x="408.12" y="201.61" width="11.37" height="1.99" fill="#4e9acc"/>
<rect x="694.64" y="219.05" width="55.45" height="2.51" fill="#4e9acc"/>
<rect x="99.56" y="234.92" width="11.37" height="2.25" fill="#4e9acc"/>
<rect x="165.68" y="235.32" width="11.37" height="3.02" fill="#4e9acc"/>
<rect x="154.66" y="270.9" width="11.37" height="2.25" fill="#4e9acc"/>
<rect x="529.34" y="317.99" width="33.41" height="2.25" fill="#4e9acc"/>
<rect x="683.62" y="317.73" width="11.37" height="2.51" fill="#4e9acc"/>
<rect x="705.66" y="317.73" width="11.37" height="2.51" fill="#4e9acc"/>
<rect x="330.98" y="158.19" width="11.37" height="2.53" fill="#4794c8"/>
<rect x="364.04" y="159.12" width="11.37" height="2.53" fill="#4794c8"/>
<rect x="441.18" y="158.65" width="11.37" height="2.53" fill="#4794c8"/>
<rect x="562.4" y="160.05" width="11.37" height="2.53" fill="#4794c8"/>
<rect x="584.44" y="160.05" width="11.37" height="2.53" fill="#4794c8"/>
<rect x="650.56" y="158.19" width="11.37" height="2.53" fill="#4794c8"/>
<rect x="672.6" y="157.95" width="11.37" height="3" fill="#4794c8"/>
<rect x="253.84" y="183.36" width="44.43" height="2.53" fill="#4794c8"/>
<rect x="297.92" y="185.23" width="11.37" height="2.53" fill="#4794c8"/>
<rect x="330.98" y="185.69" width="11.37" height="2.53" fill="#4794c8"/>
<rect x="507.3" y="184.76" width="11.37" height="2.53" fill="#4794c8"/>
<rect x="551.38" y="185.69" width="11.37" height="2.53" fill="#4794c8"/>
<rect x="606.48" y="184.76" width="11.37" height="2.53" fill="#4794c8"/>
<rect x="617.5" y="185.23" width="11.37" height="2.53" fill="#4794c8"/>
<rect x="661.58" y="184.76" width="22.39" height="2.53" fill="#4794c8"/>
<rect x="749.74" y="184.76" width="11.37" height="2.53" fill="#4794c8"/>
<rect x="496.28" y="201.54" width="11.37" height="2.53" fill="#4794c8"/>
<rect x="165.68" y="217.86" width="44.43" height="2.53" fill="#4794c8"/>
<rect x="584.44" y="218.56" width="11.37" height="2.06" fill="#4794c8"/>
<rect x="661.58" y="218.33" width="11.37" height="2.53" fill="#4794c8"/>
<rect x="154.66" y="235.11" width="11.37" height="2.53" fill="#4794c8"/>
<rect x="253.84" y="233.24" width="11.37" height="2.53" fill="#4794c8"/>
<rect x="275.88" y="233.24" width="11.37" height="2.53" fill="#4794c8"/>
<rect x="330.98" y="233.24" width="11.37" height="2.53" fill="#4794c8"/>
<rect x="364.04" y="234.18" width="11.37" height="2.53" fill="#4794c8"/>
<rect x="375.06" y="233.94" width="11.37" height="3" fill="#4794c8"/>
<rect x="386.08" y="233.24" width="11.37" height="2.53" fill="#4794c8"/>
<rect x="419.14" y="232.78" width="11.37" height="2.53" fill="#4794c8"/>
<rect x="441.18" y="233.24" width="11.37" height="2.53" fill="#4794c8"/>
<rect x="496.28" y="233.71" width="11.37" height="2.53" fill="#4794c8"/>
<rect x="507.3" y="234.18" width="11.37" height="2.53" fill="#4794c8"/>
<rect x="551.38" y="234.64" width="11.37" height="2.53" fill="#4794c8"/>
<rect x="606.48" y="233.24" width="11.37" height="2.53" fill="#4794c8"/>
<rect x="617.5" y="233.71" width="11.37" height="2.53" fill="#4794c8"/>
<rect x="121.6" y="270.86" width="11.37" height="1.6" fill="#4794c8"/>
<rect x="386.08" y="267.59" width="11.37" height="1.6" fill="#4794c8"/>
<rect x="507.3" y="283.44" width="11.37" height="1.6" fill="#4794c8"/>
<rect x="187.72" y="304.42" width="22.39" height="2.53" fill="#4794c8"/>
<rect x="220.78" y="331.69" width="11.37" height="3" fill="#4794c8"/>
<rect x="507.3" y="334.26" width="11.37" height="1.6" fill="#4794c8"/>
<rect x="154.66" y="367.83" width="11.37" height="2.53" fill="#4794c8"/>
<rect x="253.84" y="368.06" width="11.37" height="3" fill="#4794c8"/>
<rect x="319.96" y="368.06" width="33.41" height="3" fill="#4794c8"/>
<rect x="606.48" y="365.49" width="11.37" height="2.53" fill="#4794c8"/>
<rect x="353.02" y="414.06" width="11.37" height="3" fill="#4794c8"/>
<rect x="507.3" y="416.39" width="11.37" height="2.06" fill="#4794c8"/>
<rect x="529.34" y="415.93" width="11.37" height="3" fill="#4794c8"/>
<rect x="551.38" y="415.93" width="11.37" height="3" fill="#4794c8"/>
<rect x="595.46" y="415.23" width="11.37" height="2.53" fill="#4794c8"/>
<rect x="606.48" y="415.93" width="11.37" height="2.06" fill="#4794c8"/>
<rect x="760.76" y="414.99" width="11.37" height="2.06" fill="#4794c8"/>
<rect x="573.42" y="160.82" width="11.37" height="1.99" fill="#4290c6"/>
<rect x="661.58" y="158.96" width="11.37" height="1.99" fill="#4290c6"/>
<rect x="397.1" y="185.06" width="11.37" height="1.99" fill="#4290c6"/>
<rect x="694.64" y="185.53" width="55.45" height="1.99" fill="#4290c6"/>
<rect x="77.52" y="201.8" width="11.37" height="2.51" fill="#4290c6"/>
<rect x="397.1" y="234.43" width="11.37" height="2.51" fill="#4290c6"/>
<rect x="540.36" y="235.65" width="11.37" height="1.99" fill="#4290c6"/>
<rect x="209.76" y="304.93" width="11.37" height="2.25" fill="#4290c6"/>
<rect x="694.64" y="317.73" width="11.37" height="2.51" fill="#4290c6"/>
<rect x="595.46" y="365.8" width="11.37" height="1.99" fill="#4290c6"/>
<rect x="507.3" y="159.35" width="11.37" height="2.06" fill="#3c8bc4"/>
<rect x="639.54" y="158.89" width="11.37" height="2.06" fill="#3c8bc4"/>
<rect x="231.8" y="185.69" width="11.37" height="2.53" fill="#3c8bc4"/>
<rect x="375.06" y="184.76" width="11.37" height="2.53" fill="#3c8bc4"/>
<rect x="529.34" y="185.69" width="11.37" height="2.53" fill="#3c8bc4"/>
<rect x="650.56" y="184.76" width="11.37" height="2.53" fill="#3c8bc4"/>
<rect x="452.2" y="202.24" width="11.37" height="2.06" fill="#3c8bc4"/>
<rect x="760.76" y="200.84" width="11.37" height="3" fill="#3c8bc4"/>
<rect x="110.58" y="217.16" width="11.37" height="3" fill="#3c8bc4"/>
<rect x="529.34" y="219.26" width="11.37" height="2.53" fill="#3c8bc4"/>
<rect x="650.56" y="218.79" width="11.37" height="2.53" fill="#3c8bc4"/>
<rect x="672.6" y="218.79" width="11.37" height="2.53" fill="#3c8bc4"/>
<rect x="749.74" y="217.16" width="11.37" height="3" fill="#3c8bc4"/>
<rect x="66.5" y="233.94" width="11.37" height="2.06" fill="#3c8bc4"/>
<rect x="529.34" y="235.11" width="11.37" height="2.53" fill="#3c8bc4"/>
<rect x="573.42" y="234.18" width="11.37" height="2.53" fill="#3c8bc4"/>
<rect x="584.44" y="233.71" width="11.37" height="2.53" fill="#3c8bc4"/>
<rect x="132.62" y="250.26" width="11.37" height="3" fill="#3c8bc4"/>
<rect x="540.36" y="258.42" width="11.37" height="2.53" fill="#3c8bc4"/>
<rect x="419.14" y="266.89" width="11.37" height="2.53" fill="#3c8bc4"/>
<rect x="672.6" y="265.61" width="11.37" height="4.16" fill="#3c8bc4"/>
<rect x="419.14" y="282.28" width="11.37" height="2.53" fill="#3c8bc4"/>
<rect x="441.18" y="283.68" width="11.37" height="2.53" fill="#3c8bc4"/>
<rect x="165.68" y="304.42" width="22.39" height="2.53" fill="#3c8bc4"/>
<rect x="441.18" y="317.71" width="11.37" height="2.06" fill="#3c8bc4"/>
<rect x="507.3" y="317.01" width="11.37" height="1.6" fill="#3c8bc4"/>
<rect x="760.76" y="317.01" width="11.37" height="1.6" fill="#3c8bc4"/>
<rect x="77.52" y="333.79" width="33.41" height="2.53" fill="#3c8bc4"/>
<rect x="154.66" y="333.33" width="11.37" height="1.6" fill="#3c8bc4"/>
<rect x="353.02" y="332.63" width="11.37" height="3" fill="#3c8bc4"/>
<rect x="771.78" y="333.56" width="11.37" height="3" fill="#3c8bc4"/>
<rect x="242.82" y="368.99" width="11.37" height="2.06" fill="#3c8bc4"/>
<rect x="595.46" y="398.91" width="11.37" height="2.53" fill="#3c8bc4"/>
<rect x="606.48" y="399.14" width="11.37" height="2.06" fill="#3c8bc4"/>
<rect x="617.5" y="400.07" width="11.37" height="2.06" fill="#3c8bc4"/>
<rect x="286.9" y="413.83" width="11.37" height="2.53" fill="#3c8bc4"/>
<rect x="319.96" y="414.29" width="11.37" height="2.53" fill="#3c8bc4"/>
<rect x="330.98" y="413.83" width="11.37" height="2.53" fill="#3c8bc4"/>
<rect x="364.04" y="202.73" width="11.37" height="2.51" fill="#3787c1"/>
<rect x="661.58" y="317.73" width="11.37" height="2.51" fill="#3787c1"/>
<rect x="132.62" y="333.16" width="11.37" height="1.99" fill="#3787c1"/>
<rect x="220.78" y="415.74" width="11.37" height="2.25" fill="#3787c1"/>
<rect x="242.82" y="158.19" width="11.37" height="2.53" fill="#3484c0"/>
<rect x="242.82" y="183.83" width="11.37" height="2.53" fill="#3484c0"/>
<rect x="452.2" y="185.93" width="11.37" height="2.06" fill="#3484c0"/>
<rect x="584.44" y="185.46" width="11.37" height="2.06" fill="#3484c0"/>
<rect x="639.54" y="185.58" width="11.37" height="1.83" fill="#3484c0"/>
<rect x="66.5" y="200.61" width="11.37" height="2.53" fill="#3484c0"/>
<rect x="242.82" y="233.24" width="11.37" height="2.53" fill="#3484c0"/>
<rect x="749.74" y="231.61" width="11.37" height="3" fill="#3484c0"/>
<rect x="529.34" y="258.42" width="11.37" height="2.53" fill="#3484c0"/>
<rect x="551.38" y="258.42" width="11.37" height="2.53" fill="#3484c0"/>
<rect x="353.02" y="266.89" width="11.37" height="2.53" fill="#3484c0"/>
<rect x="650.56" y="265.61" width="11.37" height="4.16" fill="#3484c0"/>
<rect x="628.52" y="281.35" width="11.37" height="3" fill="#3484c0"/>
<rect x="342" y="317.24" width="11.37" height="3" fill="#3484c0"/>
<rect x="760.76" y="333.56" width="11.37" height="3" fill="#3484c0"/>
<rect x="297.92" y="158.72" width="11.37" height="1.99" fill="#3080bd"/>
<rect x="110.58" y="185.76" width="11.37" height="1.99" fill="#3080bd"/>
<rect x="430.16" y="185.53" width="11.37" height="1.99" fill="#3080bd"/>
<rect x="573.42" y="219.8" width="11.37" height="1.99" fill="#3080bd"/>
<rect x="408.12" y="282.35" width="11.37" height="1.99" fill="#3080bd"/>
<rect x="672.6" y="317.73" width="11.37" height="2.51" fill="#3080bd"/>
<rect x="353.02" y="369.53" width="11.37" height="1.99" fill="#3080bd"/>
<rect x="617.5" y="367.66" width="11.37" height="1.99" fill="#3080bd"/>
<rect x="408.12" y="415.06" width="11.37" height="1.99" fill="#3080bd"/>
<rect x="419.14" y="415.06" width="11.37" height="1.99" fill="#3080bd"/>
<rect x="231.8" y="158.65" width="11.37" height="2.53" fill="#2e7ebc"/>
<rect x="88.54" y="200.61" width="22.39" height="2.53" fill="#2e7ebc"/>
<rect x="639.54" y="219.61" width="11.37" height="1.83" fill="#2e7ebc"/>
<rect x="231.8" y="233.24" width="11.37" height="2.53" fill="#2e7ebc"/>
<rect x="650.56" y="317.73" width="11.37" height="2.51" fill="#2c7cba"/>
</g>
<g id="toxin">
<rect x="66.5" y="499.5" width="716.3" height="3.8" fill="#fab55c"/>
<rect x="66.5" y="509.1" width="716.3" height="3.9" fill="#fab55c"/>
<rect x="242.82" y="499.5" width="11.02" height="3.8" fill="#d9dadb"/>
<rect x="242.82" y="509.1" width="11.02" height="3.9" fill="#d9dadb"/>
<rect x="242.82" y="480.9" width="11.02" height="3.5" fill="#d9dadb"/>
<rect x="242.82" y="490.5" width="11.02" height="3.5" fill="#d9dadb"/>
<rect x="121.6" y="480.9" width="99.18" height="3.5" fill="#f08282"/>
<rect x="121.6" y="490.5" width="99.18" height="3.5" fill="#f08282"/>
<rect x="441.18" y="480.9" width="11.02" height="3.5" fill="#f08282"/>
<rect x="441.18" y="490.5" width="11.02" height="3.5" fill="#f08282"/>
<rect x="419.14" y="490.5" width="11.02" height="3.5" fill="#f08282"/>
<rect x="771.78" y="480.9" width="11.02" height="3.5" fill="#f08282"/>
<rect x="771.78" y="490.5" width="11.02" height="3.5" fill="#f08282"/>
</g>
<path d="M94.05 119.8V108.4H105.07V119.8M83.03 119.8V106.3H99.56V108.4M72.01 119.8V89.5H91.3V106.3M81.65 89.5V57.6H116.09V119.8M127.11 119.8V79.5H138.13V119.8M149.15 119.8V98.1H160.17V119.8M171.19 119.8V115.4H182.21V119.8M193.23 119.8V115.6H204.25V119.8M198.74 115.6V106.3H215.27V119.8M176.7 115.4V96.2H207V106.3M154.66 98.1V71.8H191.85V96.2M132.62 79.5V52.7H173.26V71.8M98.87 57.6V38.4H152.94V52.7M125.9 38.4V32.8H226.29V119.8M270.37 119.8V117.7H281.39V119.8M275.88 117.7V113H292.41V119.8M259.35 119.8V110.2H284.14V113M248.33 119.8V101.6H271.75V110.2M314.45 119.8V114.4H325.47V119.8M303.43 119.8V110.2H319.96V114.4M311.69 110.2V105.6H336.49V119.8M324.09 105.6V102.3H347.51V119.8M260.04 101.6V85H335.8V102.3M237.31 119.8V73.9H297.92V85M267.62 73.9V69.4H358.53V119.8M380.57 119.8V89.7H391.59V119.8M402.61 119.8V110.2H413.63V119.8M408.12 110.2V95.1H424.65V119.8M386.08 89.7V79.5H416.38V95.1M435.67 119.8V78.1H446.69V119.8M401.23 79.5V71.3H441.18V78.1M369.55 119.8V66.2H421.21V71.3M313.07 69.4V61.4H395.38V66.2M479.75 119.8V117.7H490.77V119.8M468.73 119.8V112.6H485.26V117.7M477 112.6V106H501.79V119.8M457.71 119.8V80.6H489.39V106M512.81 119.8V85.8H523.83V119.8M473.55 80.6V72.5H518.32V85.8M545.87 119.8V118.9H556.89V119.8M534.85 119.8V116H551.38V118.9M495.94 72.5V68.3H543.12V116M567.91 119.8V104.4H578.93V119.8M573.42 104.4V98.1H589.95V119.8M600.97 119.8V109H611.99V119.8M606.48 109V100.9H623.01V119.8M581.68 98.1V77.6H614.75V100.9M598.21 77.6V57.3H634.03V119.8M519.53 68.3V52.4H616.12V57.3M667.09 119.8V117.8H678.11V119.8M656.07 119.8V116.1H672.6V117.8M689.13 119.8V119.2H700.15V119.8M711.17 119.8V119.2H722.19V119.8M694.64 119.2V118.4H716.68V119.2M733.21 119.8V117.2H744.23V119.8M705.66 118.4V116.5H738.72V117.2M664.34 116.1V110.3H722.19V116.5M645.05 119.8V93.3H693.26V110.3M669.16 93.3V82.8H755.25V119.8M766.27 119.8V74.2H777.29V119.8M712.2 82.8V53.8H771.78V74.2M567.82 52.4V47.2H741.99V53.8M354.23 61.4V46.3H654.91V47.2M176.1 32.8V27.7H504.57V46.3" fill="none" stroke="#c4c4c4" stroke-width="1" shape-rendering="crispEdges"/>
<g font-size="9.4" fill="#111" stroke="#111" stroke-width="0.25">
<text transform="translate(74.71,142.5) rotate(-90)" textLength="14.1" lengthAdjust="spacingAndGlyphs">002</text>
<text transform="translate(85.73,142.5) rotate(-90)" textLength="14.1" lengthAdjust="spacingAndGlyphs">002</text>
<text transform="translate(96.75,142.5) rotate(-90)" textLength="14.1" lengthAdjust="spacingAndGlyphs">002</text>
<text transform="translate(107.77,142.5) rotate(-90)" textLength="14.1" lengthAdjust="spacingAndGlyphs">002</text>
<text transform="translate(118.79,142.5) rotate(-90)" textLength="17" lengthAdjust="spacingAndGlyphs">005*</text>
<text transform="translate(129.81,142.5) rotate(-90)" textLength="14.1" lengthAdjust="spacingAndGlyphs">045</text>
<text transform="translate(141.13,142.1) rotate(-90)" textLength="5.3" lengthAdjust="spacingAndGlyphs" stroke-width="0.5">–</text>
<text transform="translate(151.85,142.5) rotate(-90)" textLength="14.1" lengthAdjust="spacingAndGlyphs">078</text>
<text transform="translate(162.87,142.5) rotate(-90)" textLength="14.1" lengthAdjust="spacingAndGlyphs">126</text>
<text transform="translate(173.89,142.5) rotate(-90)" textLength="14.1" lengthAdjust="spacingAndGlyphs">078</text>
<text transform="translate(184.91,142.5) rotate(-90)" textLength="14.1" lengthAdjust="spacingAndGlyphs">078</text>
<text transform="translate(195.93,142.5) rotate(-90)" textLength="14.1" lengthAdjust="spacingAndGlyphs">078</text>
<text transform="translate(206.95,142.5) rotate(-90)" textLength="14.1" lengthAdjust="spacingAndGlyphs">078</text>
<text transform="translate(217.97,142.5) rotate(-90)" textLength="14.1" lengthAdjust="spacingAndGlyphs">078</text>
<text transform="translate(228.99,142.5) rotate(-90)" textLength="17" lengthAdjust="spacingAndGlyphs">062*</text>
<text transform="translate(240.01,142.5) rotate(-90)" textLength="17" lengthAdjust="spacingAndGlyphs">015*</text>
<text transform="translate(251.03,142.5) rotate(-90)" textLength="14.1" lengthAdjust="spacingAndGlyphs">001</text>
<text transform="translate(262.05,142.5) rotate(-90)" textLength="17" lengthAdjust="spacingAndGlyphs">001*</text>
<text transform="translate(273.07,142.5) rotate(-90)" textLength="14.1" lengthAdjust="spacingAndGlyphs">001</text>
<text transform="translate(284.09,142.5) rotate(-90)" textLength="14.1" lengthAdjust="spacingAndGlyphs">001</text>
<text transform="translate(295.11,142.5) rotate(-90)" textLength="14.1" lengthAdjust="spacingAndGlyphs">001</text>
<text transform="translate(306.13,142.5) rotate(-90)" textLength="14.1" lengthAdjust="spacingAndGlyphs">626</text>
<text transform="translate(317.15,142.5) rotate(-90)" textLength="14.1" lengthAdjust="spacingAndGlyphs">037</text>
<text transform="translate(328.17,142.5) rotate(-90)" textLength="14.1" lengthAdjust="spacingAndGlyphs">015</text>
<text transform="translate(339.19,142.5) rotate(-90)" textLength="14.1" lengthAdjust="spacingAndGlyphs">626</text>
<text transform="translate(350.21,142.5) rotate(-90)" textLength="17" lengthAdjust="spacingAndGlyphs">244*</text>
<text transform="translate(361.23,142.5) rotate(-90)" textLength="14.1" lengthAdjust="spacingAndGlyphs">011</text>
<text transform="translate(372.25,142.5) rotate(-90)" textLength="14.1" lengthAdjust="spacingAndGlyphs">050</text>
<text transform="translate(383.27,142.5) rotate(-90)" textLength="14.1" lengthAdjust="spacingAndGlyphs">258</text>
<text transform="translate(394.29,142.5) rotate(-90)" textLength="14.1" lengthAdjust="spacingAndGlyphs">190</text>
<text transform="translate(405.31,142.5) rotate(-90)" textLength="14.1" lengthAdjust="spacingAndGlyphs">258</text>
<text transform="translate(416.33,142.5) rotate(-90)" textLength="14.1" lengthAdjust="spacingAndGlyphs">258</text>
<text transform="translate(427.35,142.5) rotate(-90)" textLength="14.1" lengthAdjust="spacingAndGlyphs">190</text>
<text transform="translate(438.37,142.5) rotate(-90)" textLength="14.1" lengthAdjust="spacingAndGlyphs">216</text>
<text transform="translate(449.39,142.5) rotate(-90)" textLength="14.1" lengthAdjust="spacingAndGlyphs">023</text>
<text transform="translate(460.41,142.5) rotate(-90)" textLength="14.1" lengthAdjust="spacingAndGlyphs">026</text>
<text transform="translate(471.43,142.5) rotate(-90)" textLength="14.1" lengthAdjust="spacingAndGlyphs">026</text>
<text transform="translate(482.45,142.5) rotate(-90)" textLength="14.1" lengthAdjust="spacingAndGlyphs">026</text>
<text transform="translate(493.47,142.5) rotate(-90)" textLength="14.1" lengthAdjust="spacingAndGlyphs">026</text>
<text transform="translate(504.49,142.5) rotate(-90)" textLength="14.1" lengthAdjust="spacingAndGlyphs">026</text>
<text transform="translate(515.51,142.5) rotate(-90)" textLength="14.1" lengthAdjust="spacingAndGlyphs">081</text>
<text transform="translate(526.53,142.5) rotate(-90)" textLength="14.1" lengthAdjust="spacingAndGlyphs">029</text>
<text transform="translate(537.55,142.5) rotate(-90)" textLength="14.1" lengthAdjust="spacingAndGlyphs">012</text>
<text transform="translate(548.57,142.5) rotate(-90)" textLength="14.1" lengthAdjust="spacingAndGlyphs">012</text>
<text transform="translate(559.59,142.5) rotate(-90)" textLength="14.1" lengthAdjust="spacingAndGlyphs">012</text>
<text transform="translate(570.61,142.5) rotate(-90)" textLength="14.1" lengthAdjust="spacingAndGlyphs">014</text>
<text transform="translate(581.63,142.5) rotate(-90)" textLength="14.1" lengthAdjust="spacingAndGlyphs">207</text>
<text transform="translate(592.65,142) rotate(-90)" textLength="4.6" lengthAdjust="spacingAndGlyphs">?</text>
<text transform="translate(603.67,142.5) rotate(-90)" textLength="14.1" lengthAdjust="spacingAndGlyphs">014</text>
<text transform="translate(614.69,142.5) rotate(-90)" textLength="14.1" lengthAdjust="spacingAndGlyphs">014</text>
<text transform="translate(625.71,142.5) rotate(-90)" textLength="14.1" lengthAdjust="spacingAndGlyphs">014</text>
<text transform="translate(636.73,142.5) rotate(-90)" textLength="14.1" lengthAdjust="spacingAndGlyphs">070</text>
<text transform="translate(647.75,142.5) rotate(-90)" textLength="14.1" lengthAdjust="spacingAndGlyphs">017</text>
<text transform="translate(658.77,142.5) rotate(-90)" textLength="14.1" lengthAdjust="spacingAndGlyphs">017</text>
<text transform="translate(669.79,142.5) rotate(-90)" textLength="14.1" lengthAdjust="spacingAndGlyphs">017</text>
<text transform="translate(680.81,142.5) rotate(-90)" textLength="14.1" lengthAdjust="spacingAndGlyphs">017</text>
<text transform="translate(691.83,142.5) rotate(-90)" textLength="14.1" lengthAdjust="spacingAndGlyphs">017</text>
<text transform="translate(702.85,142.5) rotate(-90)" textLength="14.1" lengthAdjust="spacingAndGlyphs">017</text>
<text transform="translate(713.87,142.5) rotate(-90)" textLength="14.1" lengthAdjust="spacingAndGlyphs">017</text>
<text transform="translate(724.89,142.5) rotate(-90)" textLength="14.1" lengthAdjust="spacingAndGlyphs">017</text>
<text transform="translate(735.91,142.5) rotate(-90)" textLength="14.1" lengthAdjust="spacingAndGlyphs">017</text>
<text transform="translate(746.93,142.5) rotate(-90)" textLength="14.1" lengthAdjust="spacingAndGlyphs">017</text>
<text transform="translate(757.95,142.5) rotate(-90)" textLength="14.1" lengthAdjust="spacingAndGlyphs">265</text>
<text transform="translate(768.97,142.5) rotate(-90)" textLength="14.1" lengthAdjust="spacingAndGlyphs">050</text>
<text transform="translate(779.99,142.5) rotate(-90)" textLength="14.1" lengthAdjust="spacingAndGlyphs">027</text>
</g>
<path d="M72.01 144.6v2.4M83.03 144.6v2.4M94.05 144.6v2.4M105.07 144.6v2.4M116.09 144.6v2.4M127.11 144.6v2.4M138.13 144.6v2.4M149.15 144.6v2.4M160.17 144.6v2.4M171.19 144.6v2.4M182.21 144.6v2.4M193.23 144.6v2.4M204.25 144.6v2.4M215.27 144.6v2.4M226.29 144.6v2.4M237.31 144.6v2.4M248.33 144.6v2.4M259.35 144.6v2.4M270.37 144.6v2.4M281.39 144.6v2.4M292.41 144.6v2.4M303.43 144.6v2.4M314.45 144.6v2.4M325.47 144.6v2.4M336.49 144.6v2.4M347.51 144.6v2.4M358.53 144.6v2.4M369.55 144.6v2.4M380.57 144.6v2.4M391.59 144.6v2.4M402.61 144.6v2.4M413.63 144.6v2.4M424.65 144.6v2.4M435.67 144.6v2.4M446.69 144.6v2.4M457.71 144.6v2.4M468.73 144.6v2.4M479.75 144.6v2.4M490.77 144.6v2.4M501.79 144.6v2.4M512.81 144.6v2.4M523.83 144.6v2.4M534.85 144.6v2.4M545.87 144.6v2.4M556.89 144.6v2.4M567.91 144.6v2.4M578.93 144.6v2.4M589.95 144.6v2.4M600.97 144.6v2.4M611.99 144.6v2.4M623.01 144.6v2.4M634.03 144.6v2.4M645.05 144.6v2.4M656.07 144.6v2.4M667.09 144.6v2.4M678.11 144.6v2.4M689.13 144.6v2.4M700.15 144.6v2.4M711.17 144.6v2.4M722.19 144.6v2.4M733.21 144.6v2.4M744.23 144.6v2.4M755.25 144.6v2.4M766.27 144.6v2.4M777.29 144.6v2.4" stroke="#d4d8dc" stroke-width="0.8" fill="none"/>
<path d="M57 154.7h1.8M57 164.29h1.8M57 173.88h1.8M57 183.47h1.8M57 193.06h1.8M57 202.65h1.8M57 212.24h1.8M57 221.83h1.8M57 231.42h1.8M57 241.01h1.8M57 250.6h1.8M57 260.19h1.8M57 269.78h1.8M57 279.37h1.8M57 288.96h1.8M57 298.55h1.8M57 308.14h1.8M57 317.73h1.8M57 327.32h1.8M57 336.91h1.8M57 346.5h1.8M57 356.09h1.8M57 365.68h1.8M57 375.27h1.8M57 384.86h1.8M57 394.45h1.8M57 404.04h1.8M57 413.63h1.8M57 423.22h1.8M57 432.81h1.8M57 442.4h1.8M57 451.99h1.8M57 461.58h1.8M57 471.17h1.8M57 482.3h1.8M57 492.1h1.8M57 501.5h1.8M57 511.3h1.8" stroke="#b9bcc0" stroke-width="0.8" fill="none"/>
<g font-size="10" fill="#111" stroke="#111" stroke-width="0.25" text-anchor="end">
<text x="49.8" y="157.7" textLength="13.8" lengthAdjust="spacingAndGlyphs">200</text>
<text x="49.8" y="244.2" textLength="13.8" lengthAdjust="spacingAndGlyphs">300</text>
<text x="49.8" y="320.6" textLength="13.8" lengthAdjust="spacingAndGlyphs">400</text>
<text x="49.8" y="397" textLength="13.8" lengthAdjust="spacingAndGlyphs">500</text>
</g>
<g font-size="9.2" fill="#111" stroke="#111" stroke-width="0.25" text-anchor="end">
<text x="52.7" y="484.7" textLength="34.8" lengthAdjust="spacingAndGlyphs">cdtA 221</text>
<text x="52.7" y="494.2" textLength="34.8" lengthAdjust="spacingAndGlyphs">cdtB 262</text>
<text x="52.7" y="503.7" textLength="34.8" lengthAdjust="spacingAndGlyphs">tcdA 629</text>
<text x="52.7" y="512.9" textLength="34.8" lengthAdjust="spacingAndGlyphs">tcdB 410</text>
</g>
<text transform="translate(8.5,364.6) rotate(-90)" font-size="10.7" fill="#111" stroke="#111" stroke-width="0.25" textLength="97.9" lengthAdjust="spacingAndGlyphs">Fragment length (nc)</text>
<text transform="translate(8.5,512.9) rotate(-90)" font-size="10.7" fill="#111" stroke="#111" stroke-width="0.25" textLength="55" lengthAdjust="spacingAndGlyphs">Toxin genes</text>
<text x="1.3" y="127.2" font-size="10.4" fill="#111" stroke="#111" stroke-width="0.25" textLength="48" lengthAdjust="spacingAndGlyphs">Reference</text>
<text x="1.3" y="139.6" font-size="10.4" fill="#111" stroke="#111" stroke-width="0.25" textLength="41.6" lengthAdjust="spacingAndGlyphs">ribotypes</text>
<path d="M47.2 135.1H55.3V133.3L61.2 136.5L55.3 139.7V137.9H47.2Z" fill="#111"/>
<text x="641.6" y="8.8" font-size="10.4" fill="#2b7fba" textLength="97.2" lengthAdjust="spacingAndGlyphs"><tspan font-style="italic">C. difficile</tspan> outbreak</text>
<path d="M642 38.5V33.4Q642 31.9 643.5 31.9H690.6Q691.8 31.9 691.8 30.2V20.3V30.2Q691.8 31.9 693 31.9H741.6Q743.1 31.9 743.1 33.4V38.5" fill="none" stroke="#2b7fba" stroke-width="1.25" stroke-linejoin="round"/>
</svg>
</body></html>
